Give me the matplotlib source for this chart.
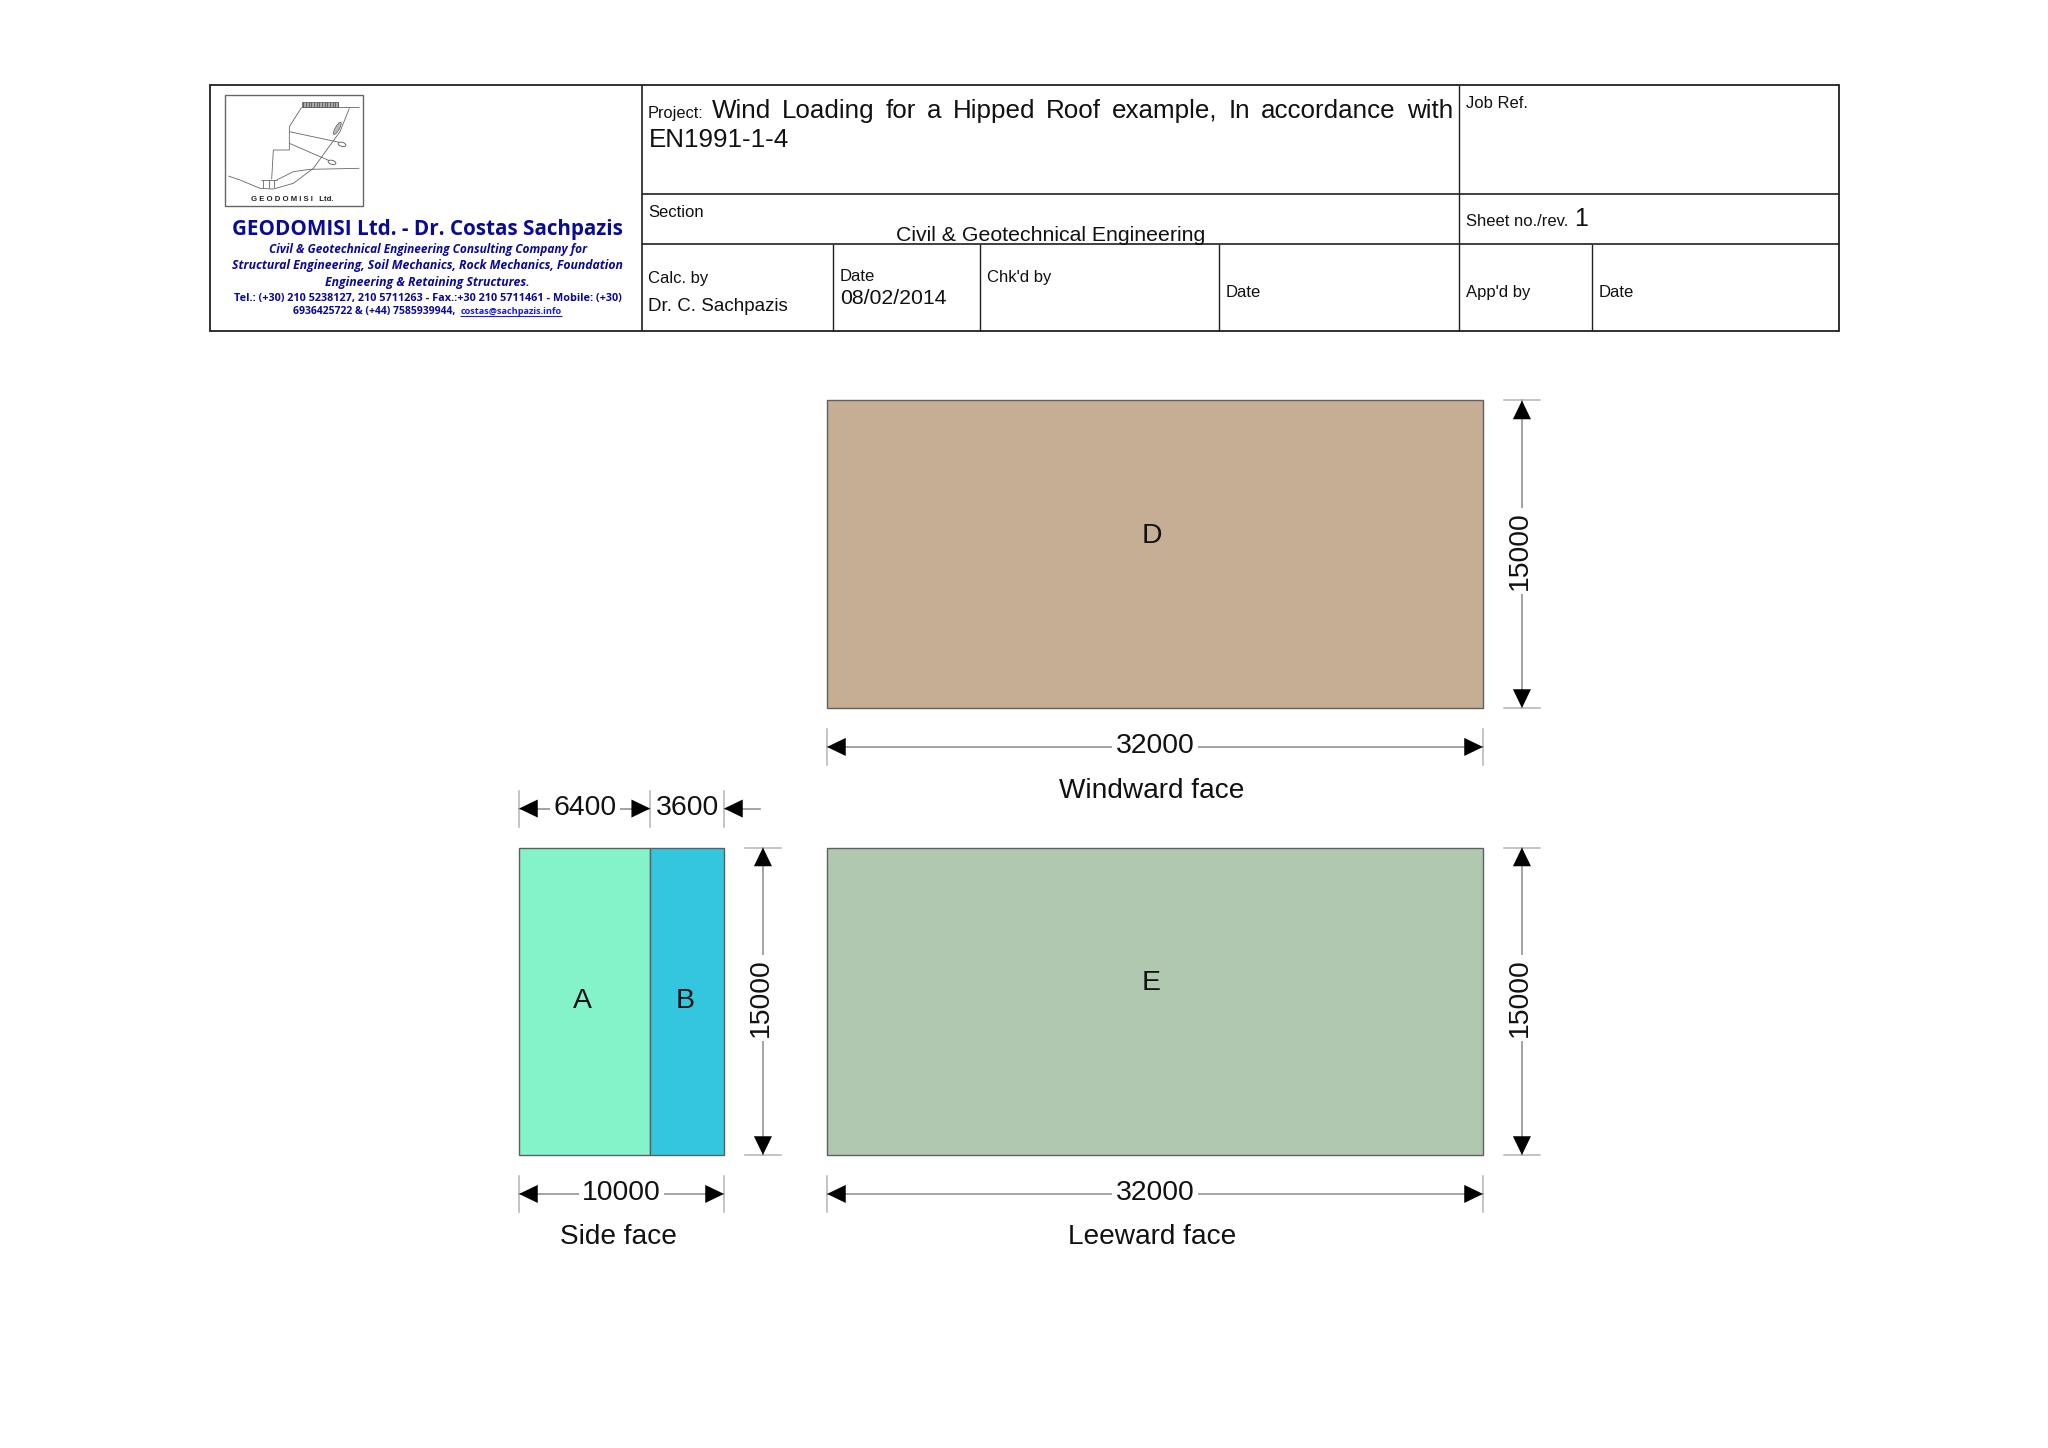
import matplotlib
matplotlib.use('Agg')
import matplotlib.pyplot as plt
from matplotlib.patches import Rectangle, Ellipse

plt.rcParams['font.family'] = ['Liberation Sans', 'DejaVu Sans']

# face sizes in mm
building_width = 32000
building_height = 15000
side_width = 10000
zone_widths = [6400, 3600]
zone_names = ['A', 'B']
zone_colors = ['#85f3c9', '#33c6de']
windward_color = '#c6ae95'
leeward_color = '#b0c8b0'
face_captions = ['Windward face', 'Leeward face', 'Side face']

project_words = ['Wind', 'Loading', 'for', 'a', 'Hipped', 'Roof', 'example,', 'In', 'accordance', 'with']

logo_lines = [
    'GEODOMISI Ltd. - Dr. Costas Sachpazis',
    'Civil & Geotechnical Engineering Consulting Company for',
    'Structural Engineering, Soil Mechanics, Rock Mechanics, Foundation',
    'Engineering & Retaining Structures.',
    'Tel.: (+30) 210 5238127, 210 5711263 - Fax.:+30 210 5711461 - Mobile: (+30)',
]

PX_PER_MM = 0.0205
NAVY = '#0a0a96'

fig = plt.figure(figsize=(20.48, 14.48), dpi=100, facecolor='white')

# page axes in pixels, used for the title block
page = fig.add_axes([0, 0, 1, 1])
page.set_xlim(0, 2048)
page.set_ylim(1448, 0)
page.axis('off')

# drawing axes in mm, origin at bottom left corner of the side face
org_x, org_y = 519, 1155
ax = fig.add_axes([0, 0, 1, 1])
ax.set_xlim(-org_x / PX_PER_MM, (2048 - org_x) / PX_PER_MM)
ax.set_ylim(-(1448 - org_y) / PX_PER_MM, org_y / PX_PER_MM)
ax.axis('off')
ax.patch.set_alpha(0)

renderer = fig.canvas.get_renderer()


def line(x, y, lw=1.0, color='#202020'):
    page.plot(x, y, color=color, lw=lw, solid_capstyle='butt')


def label(x, y, s, size, **kw):
    return page.text(x, y, s, fontsize=size, va='baseline', color='#111111', **kw)


def fit_text(cx, y, s, width, color=NAVY, **kw):
    # scale the font so the line is as wide as in the picture
    t = page.text(cx, y, s, fontsize=10, color=color, ha='center', va='baseline',
                  family=['Open Sans', 'DejaVu Sans'], **kw)
    w = t.get_window_extent(renderer).width
    t.set_fontsize(10 * width / w)
    return t


# ---- title block ----
left, right, top, bottom = 210, 1839, 85, 331
page.add_patch(Rectangle((left, top), right - left, bottom - top, fill=False, ec='#202020', lw=1.3))
line([642, 642], [top, bottom], 1.2)
line([1459, 1459], [top, bottom], 1.0)
line([642, right], [194, 194], 1.2)
line([642, right], [244, 244], 1.2)
for xv in [833, 980, 1219, 1592]:
    line([xv, xv], [244, bottom], 1.0)

label(648, 118, 'Project:', 11.8)
label(1466, 108, 'Job Ref.', 12)
label(648, 217, 'Section', 12)
label(896, 241, 'Civil & Geotechnical Engineering', 15.3)
label(1466, 226, 'Sheet no./rev.', 12)
label(1574, 226, '1', 18)
label(648, 283, 'Calc. by', 12)
label(648, 311, 'Dr. C. Sachpazis', 13.5)
label(840, 281, 'Date', 12)
label(840, 304, '08/02/2014', 15.3)
label(987, 282, "Chk'd by", 12)
label(1226, 297, 'Date', 12)
label(1466, 297, "App'd by", 12)
label(1599, 297, 'Date', 12)

# justified project title
word_texts = [label(0, 118, w, 18.7) for w in project_words]
word_widths = [t.get_window_extent(renderer).width for t in word_texts]
x_start, x_end = 712, 1453
gap = (x_end - x_start - sum(word_widths)) / (len(word_texts) - 1)
x_pos = x_start
for t, w in zip(word_texts, word_widths):
    t.set_x(x_pos)
    x_pos += w + gap
label(649, 147, 'EN1991-1-4', 18.7)

# ---- company logo ----
page.add_patch(Rectangle((225, 95), 138, 111, fill=False, ec='#666666', lw=1.0))


def zp(pts):
    return [220 + p[0] / 3 for p in pts], [90 + p[1] / 3 for p in pts]


sketch = [
    [(245, 52), (418, 52)],
    [(245, 52), (208, 110), (208, 180), (160, 180), (155, 268)],
    [(208, 125), (358, 157)],
    [(208, 160), (328, 212)],
    [(388, 55), (360, 125), (320, 180), (280, 235), (220, 280), (160, 297), (120, 295), (60, 270), (25, 258)],
    [(170, 270), (220, 245), (270, 238), (418, 235)],
    [(130, 270), (130, 295)],
    [(146, 270), (146, 295)],
    [(162, 270), (162, 295)],
    [(122, 270), (170, 270)],
]
for pts in sketch:
    xs, ys = zp(pts)
    line(xs, ys, 0.6, '#666666')
xs, ys = zp([(247, 35), (355, 50)])
page.add_patch(Rectangle((xs[0], ys[0]), xs[1] - xs[0], ys[1] - ys[0], fc='#aaaaaa', ec='#555555', lw=0.5))
for hx in range(250, 355, 8):
    xs, ys = zp([(hx, 35), (hx, 50)])
    line(xs, ys, 0.5, '#444444')
for cx, cy in [(366, 163), (336, 217)]:
    xs, ys = zp([(cx, cy)])
    page.add_patch(Ellipse((xs[0], ys[0]), 8, 4, angle=15, fill=False, ec='#555555', lw=0.6))
xs, ys = zp([(352, 115)])
page.add_patch(Ellipse((xs[0], ys[0]), 4, 14, angle=30, fc='#bbbbbb', ec='#555555', lw=0.5))
page.text(292, 201, 'G E O D O M I S I   Ltd.', fontsize=5.6, fontweight='bold', ha='center',
          va='baseline', color='#222222')

fit_text(427, 235, logo_lines[0], 391, fontweight='bold')
fit_text(428, 253, logo_lines[1], 319, fontweight='bold', style='italic')
fit_text(427, 269, logo_lines[2], 393, fontweight='bold', style='italic')
fit_text(427, 286, logo_lines[3], 205, fontweight='bold', style='italic')
fit_text(428, 301, logo_lines[4], 386, fontweight='bold')
fit_text(374, 314, '6936425722 & (+44) 7585939944,', 162, fontweight='bold')
fit_text(511, 314, 'costas@sachpazis.info', 102, color='#1a1ae0', fontweight='bold')
line([460, 562], [316, 316], 0.8, '#1a1ae0')

# ---- faces ----
EDGE = '#5f5f5f'
DIM = '#939393'
EXT = '#b4b4b4'
face_x = 15024
windward_y = 21805


def rect(x, y, w, h, color):
    ax.add_patch(Rectangle((x, y), w, h, fc=color, ec=EDGE, lw=1.0))


def arrow(x0, y0, x1, y1):
    # head tip at x1, y1
    ax.annotate('', xy=(x1, y1), xytext=(x0, y0),
                arrowprops=dict(arrowstyle='-|>,head_length=13.5,head_width=6.5', mutation_scale=1,
                                shrinkA=0, shrinkB=0, color=DIM, fc='black', ec='black', lw=0))
    ax.plot([x0, x1], [y0, y1], color=DIM, lw=1.2, zorder=1)


def dim_text(x, y, s, rotation=0):
    off = (-1.8, 2.4) if rotation else (0, 0.6)
    ax.annotate(s, xy=(x, y), xytext=off, textcoords='offset points', ha='center', va='center',
                rotation=rotation, fontsize=20.4, color='#111111', zorder=3,
                bbox=dict(fc='white', ec='none', pad=2.5))


def hdim(x0, x1, y, s):
    ext = 880
    ax.plot([x0, x0], [y - ext, y + ext], color=EXT, lw=1.1)
    ax.plot([x1, x1], [y - ext, y + ext], color=EXT, lw=1.1)
    mid = (x0 + x1) / 2
    arrow(mid, y, x0, y)
    arrow(mid, y, x1, y)
    dim_text(mid, y, s)


def vdim(x, y0, y1, s):
    ext = 880
    ax.plot([x - ext, x + ext], [y0, y0], color=EXT, lw=1.1)
    ax.plot([x - ext, x + ext], [y1, y1], color=EXT, lw=1.1)
    mid = (y0 + y1) / 2
    arrow(x, mid, x, y0)
    arrow(x, mid, x, y1)
    dim_text(x, mid, s, rotation=90)


dim_below = 1900
dim_side = 1900
dim_above = 1900

rect(face_x, windward_y, building_width, building_height, windward_color)
rect(face_x, 0, building_width, building_height, leeward_color)
x_zone = 0
for zw, name, col in zip(zone_widths, zone_names, zone_colors):
    rect(x_zone, 0, zw, building_height, col)
    ax.text(x_zone + zw / 2 - 120, building_height / 2 + 30, name, fontsize=20.4, ha='center', va='center', color='#111111')
    x_zone += zw
ax.text(face_x + building_width / 2 - 170, windward_y + building_height / 2 + 880, 'D', fontsize=20.4, ha='center', va='center', color='#111111')
ax.text(face_x + building_width / 2 - 170, building_height / 2 + 880, 'E', fontsize=20.4, ha='center', va='center', color='#111111')

hdim(face_x, face_x + building_width, windward_y - 1900, str(building_width))
vdim(face_x + building_width + dim_side, windward_y, windward_y + building_height, str(building_height))
hdim(face_x, face_x + building_width, -dim_below, str(building_width))
vdim(face_x + building_width + dim_side, 0, building_height, str(building_height))
hdim(0, side_width, -dim_below, str(side_width))
vdim(side_width + dim_side, 0, building_height, str(building_height))

# chain dimension above the side face
y_top = building_height + dim_above
x_first = zone_widths[0]
for xv in [0, x_first, side_width]:
    ax.plot([xv, xv], [y_top - 880, y_top + 880], color=EXT, lw=1.1)
arrow(x_first / 2, y_top, 0, y_top)
arrow(x_first / 2, y_top, x_first, y_top)
dim_text(x_first / 2, y_top, str(zone_widths[0]))
arrow(side_width + 1750, y_top, side_width, y_top)
dim_text(x_first + zone_widths[1] / 2, y_top, str(zone_widths[1]))

# captions, positioned on the page
label(1152, 798, face_captions[0], 20.2, ha='center')
label(1152, 1244, face_captions[1], 20.2, ha='center')
label(618, 1244, face_captions[2], 20.2, ha='center')

fig.savefig('out.png', dpi=100, facecolor='white')
